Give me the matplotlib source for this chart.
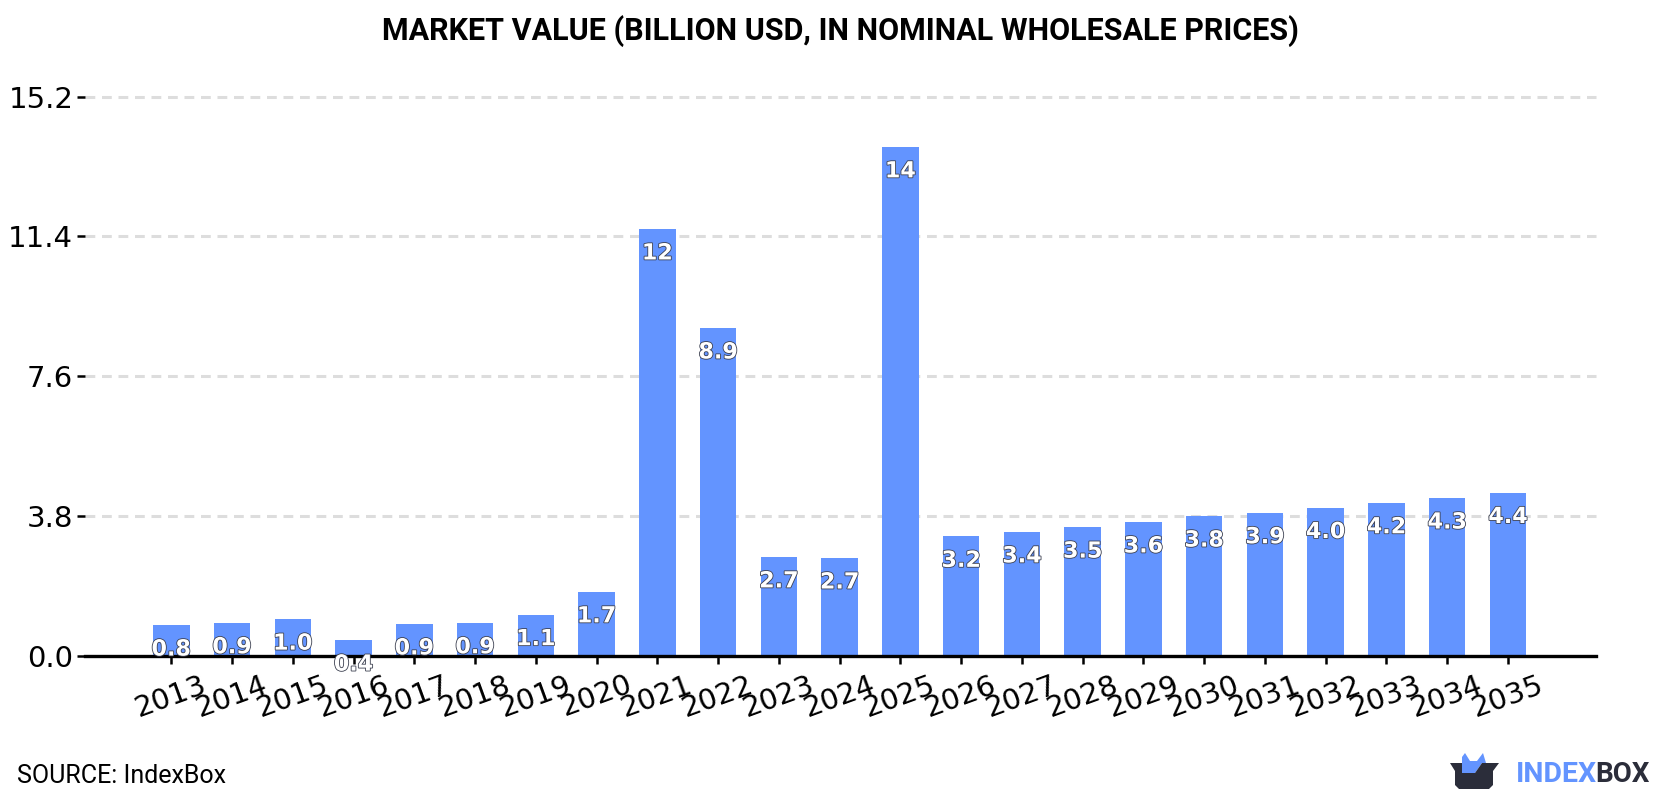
import matplotlib
matplotlib.use("Agg")
import matplotlib.pyplot as plt
import matplotlib.patheffects as pe
from matplotlib.patches import Polygon

W, H = 1680, 800

years = [2013, 2014, 2015, 2016, 2017, 2018, 2019, 2020, 2021, 2022, 2023, 2024,
         2025, 2026, 2027, 2028, 2029, 2030, 2031, 2032, 2033, 2034, 2035]
market_value = [0.84, 0.90, 1.00, 0.43, 0.87, 0.90, 1.12, 1.74, 11.6, 8.91, 2.69, 2.66,
                13.83, 3.249, 3.37, 3.50, 3.64, 3.80, 3.89, 4.03, 4.16, 4.29, 4.44]
y_ticks = [0.0, 3.8, 7.6, 11.4, 15.2]

BLUE = "#6394ff"
DARK = "#2b2d3a"


def fmt_value(v):
    # two significant digits, whole numbers once above ten
    return f"{v:.0f}" if v >= 10 else f"{v:.1f}"


fig = plt.figure(figsize=(W / 100, H / 100), dpi=100)
ax = fig.add_axes([85 / W, 1 - 656 / H, (1596 - 85) / W, (656 - 96.5) / H])

x = list(range(len(years)))
ax.bar(x, market_value, width=0.6, color=BLUE, zorder=3)

ax.set_xlim(-1.42, len(years) - 1 + 1.45)
ax.set_ylim(0, 15.2)

# value labels hang a fixed distance below each bar top
for xi, v in zip(x, market_value):
    ax.annotate(fmt_value(v), (xi, v), xytext=(0, -17.6), textcoords="offset points",
                ha="center", va="center", color="white", fontsize=16,
                fontweight="bold", family="DejaVu Sans", zorder=5, annotation_clip=False,
                path_effects=[pe.withStroke(linewidth=1.2, foreground="#3c4050")])

ax.set_yticks(y_ticks)
ax.set_yticklabels([f"{t:.1f}" for t in y_ticks], fontsize=21, family="DejaVu Sans")
ax.set_xticks(x)
ax.set_xticklabels([str(y) for y in years], fontsize=21, rotation=20, family="DejaVu Sans")
ax.tick_params(axis="y", length=5.5, width=1.8, pad=3)
ax.tick_params(axis="x", length=5.5, width=1.8, pad=5)

ax.grid(axis="y", color="#dddddd", linewidth=2.2, linestyle=(0, (3.2, 2.2)), zorder=0)
for line in ax.get_ygridlines():
    line.set_clip_on(False)
ax.set_axisbelow(True)

for side in ("top", "left", "right"):
    ax.spines[side].set_visible(False)
ax.spines["bottom"].set_linewidth(2.4)
ax.spines["bottom"].set_zorder(4)

fig.text(840 / W, 1 - 31 / H, "MARKET VALUE (BILLION USD, IN NOMINAL WHOLESALE PRICES)",
         ha="center", va="center", fontsize=22, fontweight="bold", family="Roboto")
fig.text(17 / W, 1 - 776 / H, "SOURCE: IndexBox", ha="left", va="center",
         fontsize=18, family="Roboto")

# logo in pixel coordinates
logo = fig.add_axes([0, 0, 1, 1], facecolor="none")
logo.set_xlim(0, W)
logo.set_ylim(H, 0)
logo.axis("off")
crown = [(1462, 773), (1462, 757), (1465, 753), (1470, 761), (1477, 761),
         (1483, 753), (1486, 763), (1482, 763), (1475, 773)]
box = [(1450, 763), (1462, 763), (1462, 773), (1475, 773), (1482, 763), (1499, 763),
       (1493, 771), (1493, 785), (1489, 789), (1459, 789), (1455, 785), (1455, 771)]
logo.add_patch(Polygon(crown, closed=True, facecolor=BLUE, edgecolor="none"))
logo.add_patch(Polygon(box, closed=True, facecolor=DARK, edgecolor="none"))
logo.text(1516, 774, "INDEX", color=BLUE, fontsize=20.5, fontweight="bold",
          family="Roboto", ha="left", va="center")
logo.text(1650, 774, "BOX", color=DARK, fontsize=20, fontweight="bold",
          family="Roboto", ha="right", va="center")

fig.savefig("out.png", dpi=100, facecolor="white")
